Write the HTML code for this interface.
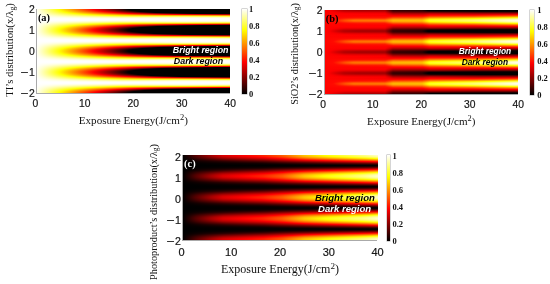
<!DOCTYPE html><html><head><meta charset="utf-8"><title>figure</title><style>
html,body{margin:0;padding:0;background:#fff}
body{width:550px;height:284px;position:relative;overflow:hidden;font-family:"Liberation Sans",sans-serif;color:#111}
.p{position:absolute}
.hm{position:absolute;overflow:hidden}
.hm i{display:block;height:1px;width:100%}
.ax{position:absolute;border-left:1px solid #aaa;border-bottom:1px solid #aaa;box-sizing:border-box}
.yt{position:absolute;font-size:10px;line-height:10px;text-align:right;width:20px;white-space:nowrap}
.yt b{font-weight:normal;display:inline-block;transform:scaleX(1.3);transform-origin:100% 50%;margin-right:0.6px}
.xt,.yt{-webkit-text-stroke:0.2px #222}
.xt{position:absolute;font-size:10px;line-height:10px;text-align:center;width:20px}
.xl{position:absolute;font-family:"Liberation Serif",serif;font-size:11.3px;line-height:12px;text-align:center;white-space:nowrap;transform:translateX(-50%)}
.xl sup{font-size:.76em;vertical-align:.47em;line-height:0}
.yl{position:absolute;font-family:"Liberation Serif",serif;font-size:10.4px;line-height:12px;white-space:nowrap;transform:translate(-50%,-50%) rotate(-90deg)}
.yl sub{font-size:.72em;vertical-align:-.2em;line-height:0}
.cb{position:absolute;width:4.9px;background:linear-gradient(0deg,#000 0%,#f00 37.5%,#ff0 75%,#fff 100%);box-shadow:0 0 0 0.5px #aaa}
.cl{position:absolute;font-family:"Liberation Serif",serif;font-weight:bold;font-size:8.5px;line-height:8px;white-space:nowrap}
.tag{position:absolute;font-family:"Liberation Serif",serif;font-weight:bold;font-size:10.4px;line-height:10px}
.rg{position:absolute;font-weight:bold;font-style:italic;font-size:9px;line-height:10px;white-space:nowrap;transform:translate(0,-50%)}
</style></head><body><div class="hm" style="left:36.3px;top:8.6px;width:194.0px;height:84.3px"><i style="background:linear-gradient(90deg,#ffffff 0px,#ffff02 23px,#ff0000 58px,#000000 93px,#000000 194px)"></i><i style="background:linear-gradient(90deg,#ffffff 0px,#ffff03 24px,#fd0000 61px,#030000 96px,#000000 194px)"></i><i style="background:linear-gradient(90deg,#ffffff 0px,#ffff06 26px,#fff600 28px,#fc0000 67px,#550000 92px,#020000 104px,#000000 194px)"></i><i style="background:linear-gradient(90deg,#ffffff 0px,#fffd00 31px,#fe0000 77px,#020000 119px,#000000 194px)"></i><i style="background:linear-gradient(90deg,#ffffff 0px,#fffd00 38px,#ff0100 93px,#6d0000 126px,#1e0000 148px,#000000 160px,#000000 194px)"></i><i style="background:linear-gradient(90deg,#ffffff 0px,#fffe00 50px,#ff5b00 99px,#ff1400 128px,#fc0000 140px,#b50000 183px,#a70000 194px)"></i><i style="background:linear-gradient(90deg,#ffffff 0px,#ffff00 72px,#ffd300 95px,#ffbd00 120px,#ffa800 157px,#ff8a00 194px)"></i><i style="background:linear-gradient(90deg,#ffffff 0px,#ffff55 82px,#ffff48 99px,#ffff5b 148px,#ffff43 194px)"></i><i style="background:linear-gradient(90deg,#ffffff 0px,#ffffb0 83px,#ffffb5 105px,#ffffcc 145px,#ffffc6 194px)"></i><i style="background:linear-gradient(90deg,#ffffff 0px,#ffffeb 89px,#fffff8 155px,#fffff7 194px)"></i><i style="background:linear-gradient(90deg,#ffffff 0px,#ffffff 194px)"></i><i style="background:linear-gradient(90deg,#ffffff 0px,#ffffee 90px,#fffff9 158px,#fffff9 194px)"></i><i style="background:linear-gradient(90deg,#ffffff 0px,#ffffb6 83px,#ffffbc 106px,#ffffd2 146px,#ffffcc 194px)"></i><i style="background:linear-gradient(90deg,#ffffff 0px,#ffff5d 82px,#ffff51 99px,#ffff66 148px,#ffff50 194px)"></i><i style="background:linear-gradient(90deg,#ffffff 0px,#fffe00 75px,#ffd800 97px,#ffc600 124px,#ffb600 157px,#ff9900 194px)"></i><i style="background:linear-gradient(90deg,#ffffff 0px,#fffe00 51px,#ff6600 98px,#ff2500 126px,#fd0000 148px,#bd0000 191px,#ba0000 194px)"></i><i style="background:linear-gradient(90deg,#ffffff 0px,#ffff02 38px,#ff0d00 92px,#fe0000 95px,#790000 126px,#2a0000 149px,#000000 167px,#000000 194px)"></i><i style="background:linear-gradient(90deg,#ffffff 0px,#ffff01 31px,#fd0000 78px,#000000 121px,#000000 194px)"></i><i style="background:linear-gradient(90deg,#ffffff 0px,#fffe00 27px,#ff0100 67px,#6f0000 89px,#010000 105px,#000000 194px)"></i><i style="background:linear-gradient(90deg,#ffffff 0px,#ffff04 24px,#ffed00 27px,#ff0000 61px,#000000 97px,#000000 194px)"></i><i style="background:linear-gradient(90deg,#ffffff 0px,#ffff03 23px,#ff0100 58px,#000000 93px,#000000 194px)"></i><i style="background:linear-gradient(90deg,#ffffff 0px,#ffff02 23px,#ff0000 58px,#000000 93px,#000000 194px)"></i><i style="background:linear-gradient(90deg,#ffffff 0px,#ffff02 24px,#ff0300 60px,#410000 87px,#000000 96px,#000000 194px)"></i><i style="background:linear-gradient(90deg,#ffffff 0px,#ffff04 26px,#ffe800 30px,#ff0000 66px,#570000 91px,#000000 104px,#000000 194px)"></i><i style="background:linear-gradient(90deg,#ffffff 0px,#ffff03 30px,#fe0000 76px,#000000 118px,#000000 194px)"></i><i style="background:linear-gradient(90deg,#ffffff 0px,#ffff00 37px,#fd0000 92px,#650000 125px,#130000 147px,#000000 154px,#000000 194px)"></i><i style="background:linear-gradient(90deg,#ffffff 0px,#fffd00 49px,#ff4f00 100px,#ff0500 129px,#f50000 136px,#ac0000 177px,#950000 194px)"></i><i style="background:linear-gradient(90deg,#ffffff 0px,#fffe00 70px,#ffcc00 94px,#ffb300 119px,#ff9a00 158px,#ff7b00 194px)"></i><i style="background:linear-gradient(90deg,#ffffff 0px,#ffff4d 82px,#ffff3e 99px,#ffff4a 130px,#ffff4d 152px,#ffff35 194px)"></i><i style="background:linear-gradient(90deg,#ffffff 0px,#ffffaa 83px,#ffffae 104px,#ffffc7 145px,#ffffbf 194px)"></i><i style="background:linear-gradient(90deg,#ffffff 0px,#ffffe8 88px,#fffff7 154px,#fffff5 194px)"></i><i style="background:linear-gradient(90deg,#ffffff 0px,#ffffff 194px)"></i><i style="background:linear-gradient(90deg,#ffffff 0px,#fffff1 91px,#fffffb 162px,#fffffa 194px)"></i><i style="background:linear-gradient(90deg,#ffffff 0px,#ffffbb 83px,#ffffc2 107px,#ffffd7 146px,#ffffd2 194px)"></i><i style="background:linear-gradient(90deg,#ffffff 0px,#ffff65 82px,#ffff5b 99px,#ffff71 147px,#ffff5d 194px)"></i><i style="background:linear-gradient(90deg,#ffffff 0px,#ffff01 77px,#ffdd00 99px,#ffcf00 129px,#ffc100 158px,#ffa700 194px)"></i><i style="background:linear-gradient(90deg,#ffffff 0px,#ffff00 52px,#ff7200 97px,#ff3400 125px,#fc0000 158px,#cc0000 194px)"></i><i style="background:linear-gradient(90deg,#ffffff 0px,#ffff00 39px,#fd0000 97px,#7e0000 128px,#340000 151px,#000000 174px,#000000 194px)"></i><i style="background:linear-gradient(90deg,#ffffff 0px,#ffff04 31px,#fff200 34px,#fd0000 79px,#0a0000 121px,#000000 123px,#000000 194px)"></i><i style="background:linear-gradient(90deg,#ffffff 0px,#ffff01 27px,#fe0000 68px,#5f0000 92px,#000000 106px,#000000 194px)"></i><i style="background:linear-gradient(90deg,#ffffff 0px,#ffff06 24px,#fff500 26px,#ff0300 61px,#4a0000 87px,#020000 97px,#000000 194px)"></i><i style="background:linear-gradient(90deg,#ffffff 0px,#ffff03 23px,#ffc700 31px,#ff0200 58px,#010000 93px,#000000 194px)"></i><i style="background:linear-gradient(90deg,#ffffff 0px,#ffff02 23px,#fe0000 58px,#000000 93px,#000000 194px)"></i><i style="background:linear-gradient(90deg,#ffffff 0px,#ffff01 24px,#ff0100 60px,#000000 96px,#000000 194px)"></i><i style="background:linear-gradient(90deg,#ffffff 0px,#ffff02 26px,#ff0300 65px,#840000 84px,#000000 103px,#000000 194px)"></i><i style="background:linear-gradient(90deg,#ffffff 0px,#ffff00 30px,#fe0000 75px,#030000 116px,#000000 194px)"></i><i style="background:linear-gradient(90deg,#ffffff 0px,#ffff02 36px,#ff0a00 88px,#ff0000 90px,#620000 123px,#0c0000 145px,#000000 150px,#000000 194px)"></i><i style="background:linear-gradient(90deg,#ffffff 0px,#ffff02 47px,#ff3f00 102px,#fd0000 126px,#b10000 163px,#820000 194px)"></i><i style="background:linear-gradient(90deg,#ffffff 0px,#fffe00 68px,#ffc500 94px,#ffa900 119px,#ff8a00 160px,#ff6c00 194px)"></i><i style="background:linear-gradient(90deg,#ffffff 0px,#ffff45 82px,#ffff34 99px,#ffff3d 127px,#ffff41 151px,#ffff26 194px)"></i><i style="background:linear-gradient(90deg,#ffffff 0px,#ffffa5 82px,#ffffa6 102px,#ffffc0 145px,#ffffb8 194px)"></i><i style="background:linear-gradient(90deg,#ffffff 0px,#ffffe5 87px,#fffff5 153px,#fffff3 194px)"></i><i style="background:linear-gradient(90deg,#ffffff 0px,#ffffff 194px)"></i><i style="background:linear-gradient(90deg,#ffffff 0px,#fffff4 93px,#fffffb 170px,#fffffb 194px)"></i><i style="background:linear-gradient(90deg,#ffffff 0px,#ffffc1 83px,#ffffc9 109px,#ffffdb 147px,#ffffd7 194px)"></i><i style="background:linear-gradient(90deg,#ffffff 0px,#ffff6c 82px,#ffff64 99px,#ffff7c 147px,#ffff69 194px)"></i><i style="background:linear-gradient(90deg,#ffffff 0px,#ffff01 80px,#ffe300 102px,#ffd000 156px,#ffb500 194px)"></i><i style="background:linear-gradient(90deg,#ffffff 0px,#fffd00 54px,#ff7d00 96px,#ff4400 123px,#fc0000 169px,#de0000 194px)"></i><i style="background:linear-gradient(90deg,#ffffff 0px,#fffe00 40px,#fd0000 99px,#870000 129px,#400000 152px,#000000 182px,#000000 194px)"></i><i style="background:linear-gradient(90deg,#ffffff 0px,#ffff00 32px,#fe0000 80px,#130000 121px,#000000 125px,#000000 194px)"></i><i style="background:linear-gradient(90deg,#ffffff 0px,#ffff03 27px,#ffd600 34px,#ff0300 68px,#940000 85px,#000000 107px,#000000 194px)"></i><i style="background:linear-gradient(90deg,#ffffff 0px,#ffff07 24px,#fffd00 25px,#fd0000 62px,#000000 98px,#000000 194px)"></i><i style="background:linear-gradient(90deg,#ffffff 0px,#ffff04 23px,#ffec00 26px,#ff0300 58px,#020000 93px,#000000 194px)"></i><i style="background:linear-gradient(90deg,#ffffff 0px,#ffff01 23px,#fe0000 58px,#040000 92px,#000000 95px,#000000 194px)"></i><i style="background:linear-gradient(90deg,#ffffff 0px,#ffff00 24px,#fe0000 60px,#020000 95px,#000000 194px)"></i><i style="background:linear-gradient(90deg,#ffffff 0px,#ffff00 26px,#fe0000 65px,#4d0000 91px,#010000 102px,#000000 194px)"></i><i style="background:linear-gradient(90deg,#ffffff 0px,#ffff05 29px,#fff700 31px,#ff0000 74px,#000000 115px,#000000 194px)"></i><i style="background:linear-gradient(90deg,#ffffff 0px,#fffe00 36px,#fd0000 89px,#560000 123px,#010000 144px,#000000 194px)"></i><i style="background:linear-gradient(90deg,#ffffff 0px,#ffff02 46px,#ff3300 103px,#fd0000 121px,#b20000 154px,#710000 193px,#700000 194px)"></i><i style="background:linear-gradient(90deg,#ffffff 0px,#fffe00 66px,#ffbf00 93px,#ffa000 117px,#ff7900 162px,#ff5c00 194px)"></i><i style="background:linear-gradient(90deg,#ffffff 0px,#ffff3c 82px,#ffff2a 99px,#ffff30 126px,#ffff33 151px,#ffff17 194px)"></i><i style="background:linear-gradient(90deg,#ffffff 0px,#ffff9f 82px,#ffff9f 102px,#ffffba 145px,#ffffb1 194px)"></i><i style="background:linear-gradient(90deg,#ffffff 0px,#ffffe1 86px,#fffff3 152px,#fffff1 194px)"></i><i style="background:linear-gradient(90deg,#ffffff 0px,#ffffff 194px)"></i><i style="background:linear-gradient(90deg,#ffffff 0px,#fffff6 95px,#fffffc 184px,#fffffc 194px)"></i><i style="background:linear-gradient(90deg,#ffffff 0px,#ffffc6 84px,#ffffd1 113px,#ffffe0 150px,#ffffdb 194px)"></i><i style="background:linear-gradient(90deg,#ffffff 0px,#ffff74 82px,#ffff6c 99px,#ffff86 147px,#ffff75 194px)"></i><i style="background:linear-gradient(90deg,#ffffff 0px,#ffff02 83px,#ffe900 106px,#ffdd00 154px,#ffc300 194px)"></i><i style="background:linear-gradient(90deg,#ffffff 0px,#ffff00 55px,#ff8800 95px,#ff5300 121px,#fe0000 181px,#f00000 194px)"></i><i style="background:linear-gradient(90deg,#ffffff 0px,#fffd00 41px,#fe0000 101px,#8e0000 131px,#490000 155px,#030000 190px,#000000 194px)"></i><i style="background:linear-gradient(90deg,#ffffff 0px,#ffff03 32px,#ffdd00 39px,#fe0000 81px,#1d0000 121px,#000000 127px,#000000 194px)"></i><i style="background:linear-gradient(90deg,#ffffff 0px,#ffff06 27px,#fff700 29px,#ff0100 69px,#700000 91px,#000000 108px,#000000 194px)"></i><i style="background:linear-gradient(90deg,#ffffff 0px,#fffe00 25px,#ff0100 62px,#2c0000 92px,#020000 98px,#000000 194px)"></i><i style="background:linear-gradient(90deg,#ffffff 0px,#ffff05 23px,#fff400 25px,#ff0400 58px,#ed0000 61px,#040000 93px,#000000 97px,#000000 194px)"></i><i style="background:linear-gradient(90deg,#ffffff 0px,#ffff01 23px,#fd0000 58px,#040000 92px,#000000 96px,#000000 194px)"></i></div><div class="ax" style="left:35.6px;top:8.6px;width:194.7px;height:85.0px"></div><div class="yt" style="left:14.7px;top:4.8px;font-size:10.4px">2</div><div class="yt" style="left:14.7px;top:25.9px;font-size:10.4px">1</div><div class="yt" style="left:14.7px;top:47.0px;font-size:10.4px">0</div><div class="yt" style="left:14.7px;top:68.0px;font-size:10.4px"><b>−</b>1</div><div class="yt" style="left:14.7px;top:89.1px;font-size:10.4px"><b>−</b>2</div><div class="xt" style="left:25.3px;top:98.5px;font-size:10.3px">0</div><div class="xt" style="left:74.8px;top:98.5px;font-size:10.3px">10</div><div class="xt" style="left:123.3px;top:98.5px;font-size:10.3px">20</div><div class="xt" style="left:171.8px;top:98.5px;font-size:10.3px">30</div><div class="xt" style="left:220.3px;top:98.5px;font-size:10.3px">40</div><div class="xl" style="left:133.3px;top:113.9px;font-size:11.10px">Exposure Energy(J/cm<sup>2</sup>)</div><div class="yl" style="left:8.6px;top:50.4px;font-size:10.70px">TI’s distribution(x/λ<sub>g</sub>)</div><div class="cb" style="left:241.7px;top:8.6px;height:85.1px;width:4.9px"></div><div class="cl" style="left:248.9px;top:5.3px">1</div><div class="cl" style="left:248.9px;top:22.2px">0.8</div><div class="cl" style="left:248.9px;top:39.0px">0.6</div><div class="cl" style="left:248.9px;top:55.9px">0.4</div><div class="cl" style="left:248.9px;top:72.7px">0.2</div><div class="cl" style="left:248.9px;top:89.6px">0</div><div class="tag" style="left:37.9px;top:12.6px;color:#000">(a)</div><div class="rg" style="left:172.8px;top:49.5px;color:#fff;font-size:8.90px">Bright region</div><div class="rg" style="left:173.8px;top:61.1px;color:#000;font-size:8.90px">Dark region</div><div class="hm" style="left:324.2px;top:9.6px;width:194.0px;height:84.3px"><i style="background:linear-gradient(90deg,#ff0300 0px,#fc0000 5px,#d50000 13px,#ba0000 20px,#ad0000 32px,#a70000 61px,#3a0000 69px,#2d0000 98px,#010000 104px,#000000 194px)"></i><i style="background:linear-gradient(90deg,#ff0300 0px,#fc0000 6px,#cd0000 20px,#c30000 35px,#bf0000 61px,#550000 69px,#460000 99px,#2e0000 105px,#120000 158px,#0b0000 194px)"></i><i style="background:linear-gradient(90deg,#ff0300 0px,#fc0000 9px,#e50000 22px,#df0000 61px,#990000 67px,#800000 69px,#730000 103px,#780000 107px,#5c0000 158px,#570000 194px)"></i><i style="background:linear-gradient(90deg,#ff0300 0px,#fb0000 16px,#f50000 37px,#f40000 61px,#cb0000 66px,#ad0000 69px,#a70000 100px,#ba0000 106px,#a20000 155px,#a30000 194px)"></i><i style="background:linear-gradient(90deg,#ff0300 0px,#fe0000 61px,#df0000 67px,#d20000 69px,#cf0000 99px,#e80000 106px,#dc0000 152px,#ec0000 194px)"></i><i style="background:linear-gradient(90deg,#ff0300 0px,#fc0000 64px,#f20000 71px,#f30000 99px,#ff0000 102px,#ff1100 106px,#ff1600 150px,#ff3a00 194px)"></i><i style="background:linear-gradient(90deg,#ff0300 0px,#ff0800 64px,#ff1400 70px,#ff1b00 99px,#ff4300 106px,#ff5a00 150px,#ff9100 194px)"></i><i style="background:linear-gradient(90deg,#ff0300 0px,#ff0900 17px,#ff1100 36px,#ff1200 61px,#ff3200 67px,#ff3f00 69px,#ff4700 98px,#ff6b00 103px,#ff8300 106px,#ffaa00 150px,#ffef00 194px)"></i><i style="background:linear-gradient(90deg,#ff0300 0px,#ff0900 12px,#ff2600 24px,#ff2e00 32px,#ff3100 61px,#ff7300 69px,#ff7c00 98px,#ff8b00 100px,#ffc700 106px,#fff800 150px,#ffff03 155px,#ffff6a 194px)"></i><i style="background:linear-gradient(90deg,#ff0300 0px,#ff0900 10px,#ff3e00 21px,#ff5900 30px,#ff5e00 61px,#ffa100 69px,#ffa800 98px,#ffba00 100px,#fffe00 106px,#ffff4a 148px,#ffffc7 194px)"></i><i style="background:linear-gradient(90deg,#ff0300 0px,#ff0900 9px,#ff2c00 15px,#ff4e00 21px,#ff7000 29px,#ff7700 61px,#ffb400 69px,#ffbb00 98px,#ffce00 100px,#fffe00 104px,#ffff1f 106px,#ffff70 149px,#ffffeb 194px)"></i><i style="background:linear-gradient(90deg,#ff0300 0px,#ff0a00 10px,#ff4000 21px,#ff5c00 30px,#ff6100 61px,#ffa300 69px,#ffab00 98px,#ffbd00 100px,#fff800 105px,#ffff02 106px,#ffff4f 148px,#ffffcc 194px)"></i><i style="background:linear-gradient(90deg,#ff0300 0px,#ff0800 11px,#ff2800 24px,#ff3100 31px,#ff3400 61px,#ff7700 69px,#ff8000 98px,#ff8f00 100px,#ffcc00 106px,#ffff01 151px,#ffff72 194px)"></i><i style="background:linear-gradient(90deg,#ff0300 0px,#ff0800 16px,#ff1300 34px,#ff1300 61px,#ff3500 67px,#ff4300 69px,#ff4b00 98px,#ff6700 102px,#ff8800 106px,#ffb000 150px,#fff600 194px)"></i><i style="background:linear-gradient(90deg,#ff0300 0px,#ff0900 64px,#ff1700 70px,#ff1e00 99px,#ff4700 106px,#ff6000 150px,#ff9800 194px)"></i><i style="background:linear-gradient(90deg,#ff0300 0px,#ff0100 62px,#f40000 71px,#f60000 99px,#ff0300 102px,#ff1500 106px,#ff1a00 150px,#ff4000 194px)"></i><i style="background:linear-gradient(90deg,#ff0300 0px,#ff0000 61px,#e10000 67px,#d50000 69px,#d20000 99px,#eb0000 106px,#e00000 152px,#f10000 194px)"></i><i style="background:linear-gradient(90deg,#ff0300 0px,#fb0000 17px,#f60000 57px,#f50000 61px,#ce0000 66px,#b00000 69px,#aa0000 100px,#be0000 106px,#a70000 155px,#a90000 194px)"></i><i style="background:linear-gradient(90deg,#ff0300 0px,#fc0000 9px,#e70000 22px,#e10000 61px,#9c0000 67px,#840000 69px,#780000 103px,#7e0000 107px,#620000 158px,#5d0000 194px)"></i><i style="background:linear-gradient(90deg,#ff0300 0px,#fc0000 6px,#cf0000 20px,#c60000 35px,#c20000 61px,#580000 69px,#490000 99px,#330000 105px,#170000 158px,#110000 194px)"></i><i style="background:linear-gradient(90deg,#ff0300 0px,#fd0000 5px,#d10000 14px,#bb0000 20px,#ae0000 32px,#a80000 61px,#3b0000 69px,#2e0000 98px,#030000 104px,#000000 132px,#000000 194px)"></i><i style="background:linear-gradient(90deg,#ff0300 0px,#fc0000 5px,#d40000 13px,#b90000 20px,#ac0000 32px,#a60000 61px,#390000 69px,#2c0000 98px,#000000 104px,#000000 194px)"></i><i style="background:linear-gradient(90deg,#ff0300 0px,#fc0000 6px,#cb0000 20px,#c10000 34px,#bd0000 61px,#520000 69px,#430000 99px,#280000 105px,#0c0000 158px,#060000 194px)"></i><i style="background:linear-gradient(90deg,#ff0300 0px,#fb0000 9px,#e40000 21px,#dd0000 59px,#dc0000 61px,#960000 67px,#7d0000 69px,#700000 104px,#720000 108px,#560000 159px,#510000 194px)"></i><i style="background:linear-gradient(90deg,#ff0300 0px,#fb0000 16px,#f40000 34px,#f30000 61px,#c90000 66px,#aa0000 69px,#a30000 100px,#b60000 106px,#9d0000 155px,#9e0000 194px)"></i><i style="background:linear-gradient(90deg,#ff0300 0px,#fe0000 61px,#de0000 67px,#d00000 69px,#cc0000 99px,#e50000 106px,#d80000 152px,#e60000 194px)"></i><i style="background:linear-gradient(90deg,#ff0300 0px,#fe0000 63px,#ef0000 70px,#f00000 99px,#ff0200 103px,#ff0e00 106px,#ff1100 150px,#ff3400 194px)"></i><i style="background:linear-gradient(90deg,#ff0300 0px,#ff0800 65px,#ff1100 71px,#ff1800 99px,#ff3f00 106px,#ff5500 150px,#ff8a00 194px)"></i><i style="background:linear-gradient(90deg,#ff0300 0px,#ff0900 18px,#ff1000 39px,#ff1300 62px,#ff3b00 69px,#ff4300 98px,#ff6700 103px,#ff7e00 106px,#ffa400 150px,#ffe800 194px)"></i><i style="background:linear-gradient(90deg,#ff0300 0px,#ff0900 12px,#ff2300 24px,#ff2b00 32px,#ff2e00 61px,#ff6f00 69px,#ff7800 98px,#ff9100 101px,#ffc200 106px,#fff300 150px,#ffff02 158px,#ffff61 194px)"></i><i style="background:linear-gradient(90deg,#ff0300 0px,#ff0900 10px,#ff3c00 21px,#ff5600 30px,#ff5b00 61px,#ff9e00 69px,#ffa600 98px,#ffb800 100px,#fffa00 106px,#ffff05 113px,#ffff48 149px,#ffffc2 194px)"></i><i style="background:linear-gradient(90deg,#ff0300 0px,#ff0900 9px,#ff2c00 15px,#ff4e00 21px,#ff6f00 29px,#ff7700 61px,#ffb400 69px,#ffbb00 98px,#ffce00 100px,#fffe00 104px,#ffff1f 106px,#ffff6f 149px,#ffffea 194px)"></i><i style="background:linear-gradient(90deg,#ff0300 0px,#ff0a00 10px,#ff4200 21px,#ff5f00 30px,#ff6400 61px,#ffa600 69px,#ffad00 98px,#ffbf00 100px,#fffa00 105px,#ffff08 107px,#ffff56 149px,#ffffd0 194px)"></i><i style="background:linear-gradient(90deg,#ff0300 0px,#ff0800 11px,#ff2900 23px,#ff3400 31px,#ff3700 61px,#ff7b00 69px,#ff8300 98px,#ff9300 100px,#ffd100 106px,#ffff01 148px,#ffff7b 194px)"></i><i style="background:linear-gradient(90deg,#ff0300 0px,#ff0900 16px,#ff1400 34px,#ff1500 61px,#ff3900 67px,#ff4700 69px,#ff4f00 98px,#ff6c00 102px,#ff8d00 106px,#ffb600 150px,#fffd00 194px)"></i><i style="background:linear-gradient(90deg,#ff0300 0px,#ff0a00 64px,#ff1a00 70px,#ff2200 99px,#ff4c00 106px,#ff6600 150px,#ff9f00 194px)"></i><i style="background:linear-gradient(90deg,#ff0300 0px,#ff0200 62px,#f60000 72px,#f90000 99px,#ff0600 102px,#ff1800 106px,#ff1f00 150px,#ff4600 194px)"></i><i style="background:linear-gradient(90deg,#ff0300 0px,#fc0000 62px,#d70000 69px,#d50000 99px,#ee0000 106px,#e40000 152px,#f70000 194px)"></i><i style="background:linear-gradient(90deg,#ff0300 0px,#fc0000 17px,#f70000 61px,#d00000 66px,#b30000 69px,#ae0000 100px,#c20000 106px,#ab0000 155px,#ae0000 194px)"></i><i style="background:linear-gradient(90deg,#ff0300 0px,#fb0000 10px,#e80000 22px,#e30000 61px,#9f0000 67px,#870000 69px,#7d0000 103px,#840000 107px,#670000 158px,#630000 194px)"></i><i style="background:linear-gradient(90deg,#ff0300 0px,#fd0000 6px,#d10000 20px,#c80000 35px,#c40000 61px,#5b0000 69px,#4c0000 99px,#380000 105px,#1c0000 159px,#160000 194px)"></i><i style="background:linear-gradient(90deg,#ff0300 0px,#fd0000 5px,#d20000 14px,#bc0000 20px,#af0000 32px,#a90000 61px,#3d0000 69px,#2f0000 98px,#000000 105px,#000000 194px)"></i><i style="background:linear-gradient(90deg,#ff0300 0px,#fc0000 5px,#d40000 13px,#b80000 20px,#ab0000 32px,#a50000 61px,#380000 69px,#2b0000 98px,#000000 104px,#000000 194px)"></i><i style="background:linear-gradient(90deg,#ff0300 0px,#fb0000 6px,#ca0000 20px,#bf0000 34px,#bb0000 61px,#500000 69px,#400000 99px,#240000 105px,#080000 157px,#010000 194px)"></i><i style="background:linear-gradient(90deg,#ff0300 0px,#fc0000 8px,#e20000 21px,#db0000 53px,#da0000 61px,#920000 67px,#790000 69px,#6b0000 100px,#6b0000 110px,#510000 159px,#4b0000 194px)"></i><i style="background:linear-gradient(90deg,#ff0300 0px,#fb0000 15px,#f30000 29px,#f20000 61px,#c60000 66px,#a60000 69px,#9f0000 100px,#b20000 106px,#980000 156px,#980000 194px)"></i><i style="background:linear-gradient(90deg,#ff0300 0px,#fd0000 61px,#dc0000 67px,#cd0000 69px,#c90000 99px,#e20000 106px,#d40000 152px,#e10000 194px)"></i><i style="background:linear-gradient(90deg,#ff0300 0px,#fd0000 63px,#ed0000 70px,#ee0000 99px,#ff0300 104px,#ff0b00 107px,#ff0d00 151px,#ff2e00 194px)"></i><i style="background:linear-gradient(90deg,#ff0300 0px,#ff0700 65px,#ff0f00 71px,#ff1500 99px,#ff3b00 106px,#ff4f00 150px,#ff8400 194px)"></i><i style="background:linear-gradient(90deg,#ff0300 0px,#ff0900 18px,#ff0f00 42px,#ff1200 62px,#ff3800 69px,#ff3f00 98px,#ff6200 103px,#ff7800 106px,#ff9d00 150px,#ffe100 194px)"></i><i style="background:linear-gradient(90deg,#ff0300 0px,#ff0800 12px,#ff2100 24px,#ff2900 33px,#ff2b00 61px,#ff6b00 69px,#ff7400 98px,#ff8d00 101px,#ffbd00 106px,#ffed00 150px,#ffff01 161px,#ffff58 194px)"></i><i style="background:linear-gradient(90deg,#ff0300 0px,#ff0900 10px,#ff3d00 22px,#ff5300 30px,#ff5800 61px,#ff9b00 69px,#ffa300 98px,#ffb500 100px,#fff700 106px,#ffff04 115px,#ffff42 149px,#ffffbc 194px)"></i><i style="background:linear-gradient(90deg,#ff0300 0px,#ff0900 9px,#ff2b00 15px,#ff4e00 21px,#ff6f00 29px,#ff7600 61px,#ffb400 69px,#ffba00 98px,#ffcd00 100px,#fffe00 104px,#ffff1e 106px,#ffff6e 149px,#ffffe9 194px)"></i><i style="background:linear-gradient(90deg,#ff0300 0px,#ff0a00 10px,#ff4400 21px,#ff6100 30px,#ff6700 61px,#ffa800 69px,#ffaf00 98px,#ffc200 100px,#fffd00 105px,#ffff0a 106px,#ffff5a 149px,#ffffd5 194px)"></i><i style="background:linear-gradient(90deg,#ff0300 0px,#ff0800 11px,#ff2b00 23px,#ff3800 31px,#ff3b00 61px,#ff7e00 69px,#ff8700 98px,#ff9700 100px,#ffd500 106px,#ffff01 145px,#ffff83 194px)"></i><i style="background:linear-gradient(90deg,#ff0300 0px,#ff0800 15px,#ff1600 31px,#ff1700 61px,#ff3c00 67px,#ff4a00 69px,#ff5300 98px,#ff7100 102px,#ff9200 106px,#ffbc00 150px,#ffff02 192px,#ffff07 194px)"></i><i style="background:linear-gradient(90deg,#ff0300 0px,#ff0a00 63px,#ff1d00 70px,#ff2500 99px,#ff5000 106px,#ff6b00 150px,#ffa600 194px)"></i><i style="background:linear-gradient(90deg,#ff0300 0px,#ff0000 63px,#f90000 74px,#fb0000 99px,#ff0900 102px,#ff1b00 106px,#ff2400 150px,#ff4d00 194px)"></i><i style="background:linear-gradient(90deg,#ff0300 0px,#fd0000 62px,#da0000 69px,#d70000 99px,#f10000 106px,#e80000 151px,#fc0000 194px)"></i><i style="background:linear-gradient(90deg,#ff0300 0px,#fb0000 18px,#f80000 61px,#d20000 66px,#b60000 69px,#b10000 100px,#c60000 106px,#b00000 154px,#b40000 194px)"></i><i style="background:linear-gradient(90deg,#ff0300 0px,#fc0000 10px,#ea0000 22px,#e50000 61px,#af0000 66px,#8a0000 69px,#800000 102px,#890000 107px,#6d0000 158px,#690000 194px)"></i><i style="background:linear-gradient(90deg,#ff0300 0px,#fd0000 6px,#d30000 20px,#ca0000 36px,#c70000 61px,#5e0000 69px,#4f0000 99px,#3e0000 105px,#210000 159px,#1b0000 194px)"></i><i style="background:linear-gradient(90deg,#ff0300 0px,#fd0000 5px,#d30000 14px,#bd0000 20px,#b00000 33px,#ab0000 61px,#3e0000 69px,#310000 98px,#010000 105px,#000000 194px)"></i><i style="background:linear-gradient(90deg,#ff0300 0px,#fc0000 5px,#d30000 13px,#b80000 20px,#aa0000 32px,#a40000 61px,#370000 69px,#2a0000 98px,#000000 104px,#000000 194px)"></i><i style="background:linear-gradient(90deg,#ff0300 0px,#ff0000 5px,#c80000 20px,#bd0000 34px,#b90000 61px,#4d0000 69px,#3d0000 99px,#1c0000 106px,#020000 160px,#000000 194px)"></i><i style="background:linear-gradient(90deg,#ff0300 0px,#fc0000 8px,#e00000 21px,#d90000 48px,#d80000 61px,#8f0000 67px,#760000 69px,#670000 100px,#610000 116px,#4a0000 161px,#450000 194px)"></i><i style="background:linear-gradient(90deg,#ff0300 0px,#fc0000 14px,#f30000 26px,#f10000 61px,#c40000 66px,#a30000 69px,#9c0000 100px,#ad0000 106px,#930000 156px,#930000 194px)"></i><i style="background:linear-gradient(90deg,#ff0300 0px,#fd0000 61px,#da0000 67px,#cb0000 69px,#c60000 99px,#df0000 106px,#cf0000 153px,#db0000 194px)"></i><i style="background:linear-gradient(90deg,#ff0300 0px,#fd0000 63px,#eb0000 70px,#eb0000 99px,#ff0000 104px,#ff0800 107px,#ff0900 151px,#ff2800 194px)"></i><i style="background:linear-gradient(90deg,#ff0300 0px,#ff0700 66px,#ff0c00 74px,#ff1200 99px,#ff3700 106px,#ff4a00 150px,#ff7d00 194px)"></i><i style="background:linear-gradient(90deg,#ff0300 0px,#ff0900 19px,#ff1000 62px,#ff3400 69px,#ff3c00 98px,#ff6500 104px,#ff7300 106px,#ff9700 150px,#ffda00 194px)"></i><i style="background:linear-gradient(90deg,#ff0300 0px,#ff0800 12px,#ff2000 25px,#ff2600 35px,#ff2800 61px,#ff6700 69px,#ff7000 98px,#ff8800 101px,#ffb800 106px,#ffe800 150px,#ffff03 165px,#ffff4f 194px)"></i><i style="background:linear-gradient(90deg,#ff0300 0px,#ff0800 10px,#ff3b00 22px,#ff5000 30px,#ff5400 61px,#ff9800 69px,#ffa000 98px,#ffb200 100px,#fff400 106px,#ffff03 118px,#ffff3d 149px,#ffffb6 194px)"></i><i style="background:linear-gradient(90deg,#ff0300 0px,#ff0900 9px,#ff2b00 15px,#ff4d00 21px,#ff6e00 29px,#ff7500 61px,#ffb300 69px,#ffba00 98px,#ffcc00 100px,#fffd00 104px,#ffff1d 106px,#ffff6d 149px,#ffffe8 194px)"></i><i style="background:linear-gradient(90deg,#ff0300 0px,#ff0b00 10px,#ff4600 21px,#ff6400 30px,#ff6a00 61px,#ffaa00 69px,#ffb100 98px,#ffc400 100px,#ffff00 105px,#ffff0e 106px,#ffff5e 149px,#ffffd8 194px)"></i><i style="background:linear-gradient(90deg,#ff0300 0px,#ff0900 11px,#ff2e00 23px,#ff3b00 31px,#ff3e00 61px,#ff8200 69px,#ff8b00 98px,#ff9b00 100px,#ffda00 106px,#ffff02 141px,#ffff2a 158px,#ffff8b 194px)"></i><i style="background:linear-gradient(90deg,#ff0300 0px,#ff0900 15px,#ff1800 30px,#ff1900 61px,#ff3f00 67px,#ff4e00 69px,#ff5700 98px,#ff7500 102px,#ff9700 106px,#ffc200 150px,#ffff02 188px,#ffff11 194px)"></i><i style="background:linear-gradient(90deg,#ff0300 0px,#ff0b00 63px,#ff2000 70px,#ff2500 98px,#ff5500 106px,#ff7100 150px,#ffad00 194px)"></i><i style="background:linear-gradient(90deg,#ff0300 0px,#ff0100 63px,#fb0000 86px,#fe0000 99px,#ff1f00 106px,#ff2900 150px,#ff5300 194px)"></i><i style="background:linear-gradient(90deg,#ff0300 0px,#fd0000 62px,#dc0000 69px,#da0000 99px,#f40000 106px,#ec0000 151px,#ff0300 194px)"></i><i style="background:linear-gradient(90deg,#ff0300 0px,#fb0000 19px,#f80000 61px,#d50000 66px,#b90000 69px,#b30000 99px,#ca0000 106px,#b40000 154px,#b90000 194px)"></i><i style="background:linear-gradient(90deg,#ff0300 0px,#fb0000 11px,#eb0000 22px,#e60000 61px,#b20000 66px,#8e0000 69px,#850000 102px,#8e0000 107px,#720000 158px,#6e0000 194px)"></i><i style="background:linear-gradient(90deg,#ff0300 0px,#fb0000 7px,#d40000 21px,#cc0000 37px,#c90000 61px,#610000 69px,#530000 99px,#430000 105px,#270000 160px,#210000 194px)"></i><i style="background:linear-gradient(90deg,#ff0300 0px,#fd0000 5px,#d00000 15px,#bd0000 21px,#b20000 33px,#ac0000 61px,#400000 69px,#330000 98px,#000000 106px,#000000 194px)"></i><i style="background:linear-gradient(90deg,#ff0300 0px,#fc0000 5px,#d30000 13px,#b70000 20px,#aa0000 32px,#a40000 61px,#370000 69px,#2a0000 98px,#040000 103px,#000000 108px,#000000 194px)"></i></div><div class="ax" style="left:323.5px;top:9.6px;width:194.7px;height:85.0px"></div><div class="yt" style="left:302.6px;top:5.8px;font-size:10.4px">2</div><div class="yt" style="left:302.6px;top:26.9px;font-size:10.4px">1</div><div class="yt" style="left:302.6px;top:48.0px;font-size:10.4px">0</div><div class="yt" style="left:302.6px;top:69.0px;font-size:10.4px"><b>−</b>1</div><div class="yt" style="left:302.6px;top:90.1px;font-size:10.4px"><b>−</b>2</div><div class="xt" style="left:313.2px;top:99.5px;font-size:10.3px">0</div><div class="xt" style="left:362.7px;top:99.5px;font-size:10.3px">10</div><div class="xt" style="left:411.2px;top:99.5px;font-size:10.3px">20</div><div class="xt" style="left:459.7px;top:99.5px;font-size:10.3px">30</div><div class="xt" style="left:508.2px;top:99.5px;font-size:10.3px">40</div><div class="xl" style="left:421.2px;top:114.9px;font-size:11.05px">Exposure Energy(J/cm<sup>2</sup>)</div><div class="yl" style="left:295.4px;top:54.2px;font-size:10.30px">SiO2’s distribution(x/λ<sub>g</sub>)</div><div class="cb" style="left:529.7px;top:9.6px;height:85.1px;width:4.4px"></div><div class="cl" style="left:537.2px;top:6.3px">1</div><div class="cl" style="left:537.2px;top:23.2px">0.8</div><div class="cl" style="left:537.2px;top:40.0px">0.6</div><div class="cl" style="left:537.2px;top:56.9px">0.4</div><div class="cl" style="left:537.2px;top:73.7px">0.2</div><div class="cl" style="left:537.2px;top:90.6px">0</div><div class="tag" style="left:325.8px;top:13.6px;color:#000">(b)</div><div class="rg" style="left:458.8px;top:51.3px;color:#fff;font-size:8.35px">Bright region</div><div class="rg" style="left:461.7px;top:61.8px;color:#000;font-size:8.35px">Dark region</div><div class="hm" style="left:182.5px;top:155.4px;width:195.0px;height:84.8px"><i style="background:linear-gradient(90deg,#000000 0px,#500000 12px,#aa0000 29px,#da0000 40px,#ff0200 61px,#ff2200 80px,#ff5a00 99px,#ffa500 115px,#ffc300 121px,#ffff02 142px,#ffff89 182px,#ffffc8 195px)"></i><i style="background:linear-gradient(90deg,#000000 0px,#500000 13px,#a30000 30px,#cc0000 40px,#ff0000 69px,#ff1700 81px,#ff4b00 99px,#ff9400 115px,#ffb000 121px,#fff300 145px,#ffff01 151px,#ffff6a 182px,#ffffa8 195px)"></i><i style="background:linear-gradient(90deg,#000000 0px,#450000 13px,#a10000 35px,#b40000 41px,#fb0000 81px,#ff0c00 87px,#ff3200 100px,#ff7700 116px,#ff9000 122px,#ffcf00 146px,#ffff02 169px,#ffff33 183px,#ffff6b 195px)"></i><i style="background:linear-gradient(90deg,#000000 0px,#3e0000 15px,#910000 40px,#d50000 81px,#ff0300 98px,#ff4800 116px,#ff6100 123px,#ff9d00 148px,#ffeb00 184px,#ffff01 191px,#ffff13 195px)"></i><i style="background:linear-gradient(90deg,#000000 0px,#370000 19px,#6d0000 41px,#ac0000 82px,#e60000 104px,#ff0100 112px,#ff2300 122px,#ff6100 151px,#ffa400 184px,#ffc300 195px)"></i><i style="background:linear-gradient(90deg,#000000 0px,#490000 41px,#7f0000 82px,#c50000 112px,#e40000 124px,#ff0300 139px,#ff5400 184px,#ff7000 195px)"></i><i style="background:linear-gradient(90deg,#000000 0px,#550000 83px,#980000 118px,#ff0200 185px,#ff1800 195px)"></i><i style="background:linear-gradient(90deg,#000000 0px,#2b0000 78px,#800000 148px,#b30000 188px,#bf0000 195px)"></i><i style="background:linear-gradient(90deg,#000000 0px,#120000 78px,#600000 183px,#6d0000 195px)"></i><i style="background:linear-gradient(90deg,#000000 0px,#080000 95px,#260000 187px,#2a0000 195px)"></i><i style="background:linear-gradient(90deg,#000000 0px,#010000 195px)"></i><i style="background:linear-gradient(90deg,#000000 0px,#070000 107px,#1e0000 193px,#1f0000 195px)"></i><i style="background:linear-gradient(90deg,#000000 0px,#100000 80px,#520000 183px,#5f0000 195px)"></i><i style="background:linear-gradient(90deg,#000000 0px,#250000 77px,#9e0000 185px,#ae0000 195px)"></i><i style="background:linear-gradient(90deg,#000000 0px,#4c0000 82px,#8e0000 119px,#f00000 185px,#ff0400 194px,#ff0600 195px)"></i><i style="background:linear-gradient(90deg,#000000 0px,#460000 44px,#760000 82px,#bc0000 113px,#d90000 125px,#ff0200 147px,#ff4600 185px,#ff5f00 195px)"></i><i style="background:linear-gradient(90deg,#000000 0px,#360000 20px,#670000 42px,#a30000 82px,#de0000 105px,#ff0300 116px,#ff1a00 124px,#ff5800 154px,#ff9800 185px,#ffb300 195px)"></i><i style="background:linear-gradient(90deg,#000000 0px,#3b0000 15px,#8a0000 40px,#cd0000 81px,#ff0100 100px,#ff4600 118px,#ff8300 141px,#ffde00 184px,#fffe00 195px)"></i><i style="background:linear-gradient(90deg,#000000 0px,#460000 14px,#ab0000 39px,#f40000 81px,#ff0200 86px,#ff2b00 100px,#ff6f00 116px,#ff8700 122px,#ffc500 146px,#ffff03 174px,#ffff24 183px,#ffff5b 195px)"></i><i style="background:linear-gradient(90deg,#000000 0px,#4e0000 13px,#9f0000 30px,#c80000 40px,#ff0100 72px,#ff1500 82px,#ff4600 99px,#ff8f00 115px,#ffab00 121px,#ffed00 145px,#ffff02 154px,#ffff60 182px,#ffff9e 195px)"></i><i style="background:linear-gradient(90deg,#000000 0px,#4f0000 12px,#a80000 29px,#d80000 40px,#ff0200 62px,#ff2100 80px,#ff5800 99px,#ffa300 115px,#ffc000 121px,#ffff01 143px,#ffff85 182px,#ffffc4 195px)"></i><i style="background:linear-gradient(90deg,#000000 0px,#500000 12px,#a60000 28px,#db0000 40px,#ff0200 60px,#ff2400 80px,#ff5b00 99px,#ffa700 115px,#ffc400 121px,#ffff01 141px,#ffff8b 182px,#ffffcb 195px)"></i><i style="background:linear-gradient(90deg,#000000 0px,#510000 13px,#a10000 29px,#d00000 40px,#ff0100 67px,#ff1b00 81px,#ff4f00 99px,#ff9900 115px,#ffb500 121px,#fff800 145px,#ffff03 149px,#ffff72 182px,#ffffb1 195px)"></i><i style="background:linear-gradient(90deg,#000000 0px,#470000 13px,#9e0000 33px,#b80000 40px,#ff0200 81px,#ff3900 100px,#ff7f00 116px,#ff9800 122px,#ffd800 146px,#ffff03 165px,#ffff3c 182px,#ffff7a 195px)"></i><i style="background:linear-gradient(90deg,#000000 0px,#3e0000 14px,#980000 40px,#dd0000 81px,#ff0300 95px,#ff4a00 114px,#ff6900 122px,#ffa700 147px,#fff800 184px,#ffff02 187px,#ffff27 195px)"></i><i style="background:linear-gradient(90deg,#000000 0px,#360000 17px,#750000 41px,#b30000 81px,#ed0000 103px,#ff0100 109px,#ff2f00 122px,#ff6d00 150px,#ffb300 184px,#ffd300 195px)"></i><i style="background:linear-gradient(90deg,#000000 0px,#4e0000 39px,#880000 82px,#ca0000 110px,#f00000 123px,#ff0300 132px,#ff6700 185px,#ff8100 195px)"></i><i style="background:linear-gradient(90deg,#000000 0px,#390000 51px,#5f0000 84px,#a40000 118px,#ff0000 175px,#ff2900 195px)"></i><i style="background:linear-gradient(90deg,#000000 0px,#330000 79px,#880000 143px,#c00000 186px,#d00000 195px)"></i><i style="background:linear-gradient(90deg,#000000 0px,#160000 77px,#6e0000 183px,#7d0000 195px)"></i><i style="background:linear-gradient(90deg,#000000 0px,#0a0000 90px,#2f0000 185px,#360000 195px)"></i><i style="background:linear-gradient(90deg,#000000 0px,#060000 195px)"></i><i style="background:linear-gradient(90deg,#000000 0px,#070000 129px,#160000 195px)"></i><i style="background:linear-gradient(90deg,#000000 0px,#0d0000 82px,#450000 183px,#500000 195px)"></i><i style="background:linear-gradient(90deg,#000000 0px,#1f0000 76px,#8e0000 185px,#9d0000 195px)"></i><i style="background:linear-gradient(90deg,#000000 0px,#430000 81px,#970000 134px,#df0000 185px,#f30000 195px)"></i><i style="background:linear-gradient(90deg,#000000 0px,#400000 45px,#6d0000 82px,#b50000 115px,#d20000 129px,#ff0300 157px,#ff3700 186px,#ff4d00 195px)"></i><i style="background:linear-gradient(90deg,#000000 0px,#360000 22px,#600000 42px,#9a0000 82px,#d90000 107px,#ff0100 119px,#ff4200 150px,#ff8500 184px,#ffa300 195px)"></i><i style="background:linear-gradient(90deg,#000000 0px,#3a0000 16px,#840000 41px,#c50000 81px,#ff0200 103px,#ff4700 122px,#ff8600 149px,#ffd000 184px,#fff000 195px)"></i><i style="background:linear-gradient(90deg,#000000 0px,#440000 14px,#a40000 39px,#ed0000 81px,#ff0300 89px,#ff2700 101px,#ff6a00 117px,#ff8000 123px,#ffbd00 147px,#ffff03 179px,#ffff4b 195px)"></i><i style="background:linear-gradient(90deg,#000000 0px,#4c0000 13px,#9f0000 31px,#c30000 40px,#ff0000 75px,#ff3900 97px,#ff8300 114px,#ffa400 121px,#ffe600 145px,#ffff01 157px,#ffff55 182px,#ffff93 195px)"></i><i style="background:linear-gradient(90deg,#000000 0px,#4e0000 12px,#a60000 29px,#d60000 40px,#ff0100 63px,#ff1e00 80px,#ff5600 99px,#ffa000 115px,#ffbd00 121px,#ffff00 144px,#ffff80 182px,#ffffbf 195px)"></i><i style="background:linear-gradient(90deg,#000000 0px,#510000 12px,#a60000 28px,#db0000 40px,#ff0200 60px,#ff2400 80px,#ff5c00 99px,#ffa800 115px,#ffc500 121px,#ffff02 141px,#ffff8c 182px,#ffffcc 195px)"></i><i style="background:linear-gradient(90deg,#000000 0px,#4d0000 12px,#a40000 29px,#d30000 40px,#ff0100 65px,#ff1e00 81px,#ff5300 99px,#ff9d00 115px,#ffba00 121px,#fffd00 145px,#ffff7a 182px,#ffffb9 195px)"></i><i style="background:linear-gradient(90deg,#000000 0px,#4a0000 13px,#9f0000 32px,#be0000 40px,#ff0000 78px,#ff3b00 99px,#ff8700 116px,#ffa000 122px,#ffe000 146px,#ffff02 161px,#ffff49 182px,#ffff87 195px)"></i><i style="background:linear-gradient(90deg,#000000 0px,#410000 14px,#9f0000 40px,#e50000 81px,#ff0300 92px,#ff2b00 104px,#ff7400 122px,#ffb200 147px,#ffff02 183px,#ffff39 195px)"></i><i style="background:linear-gradient(90deg,#000000 0px,#3a0000 17px,#7c0000 41px,#bc0000 81px,#f40000 102px,#ff0200 106px,#ff3b00 122px,#ff7b00 150px,#ffc200 184px,#ffe200 195px)"></i><i style="background:linear-gradient(90deg,#000000 0px,#370000 25px,#5a0000 43px,#910000 82px,#d30000 109px,#fd0000 123px,#ff7500 184px,#ff9200 195px)"></i><i style="background:linear-gradient(90deg,#000000 0px,#3c0000 47px,#660000 83px,#ab0000 116px,#de0000 144px,#ff0300 167px,#ff2d00 189px,#ff3b00 195px)"></i><i style="background:linear-gradient(90deg,#000000 0px,#3a0000 80px,#900000 139px,#cf0000 185px,#e10000 195px)"></i><i style="background:linear-gradient(90deg,#000000 0px,#1a0000 76px,#7e0000 184px,#8d0000 195px)"></i><i style="background:linear-gradient(90deg,#000000 0px,#0b0000 86px,#390000 183px,#430000 195px)"></i><i style="background:linear-gradient(90deg,#000000 0px,#080000 166px,#0d0000 195px)"></i><i style="background:linear-gradient(90deg,#000000 0px,#080000 166px,#0d0000 195px)"></i><i style="background:linear-gradient(90deg,#000000 0px,#0b0000 86px,#390000 183px,#430000 195px)"></i><i style="background:linear-gradient(90deg,#000000 0px,#1a0000 76px,#7e0000 184px,#8d0000 195px)"></i><i style="background:linear-gradient(90deg,#000000 0px,#3a0000 80px,#900000 139px,#cf0000 185px,#e10000 195px)"></i><i style="background:linear-gradient(90deg,#000000 0px,#3c0000 47px,#660000 83px,#ab0000 116px,#de0000 144px,#ff0300 167px,#ff2d00 189px,#ff3b00 195px)"></i><i style="background:linear-gradient(90deg,#000000 0px,#370000 25px,#5a0000 43px,#910000 82px,#d30000 109px,#fd0000 123px,#ff7500 184px,#ff9200 195px)"></i><i style="background:linear-gradient(90deg,#000000 0px,#3a0000 17px,#7c0000 41px,#bc0000 81px,#f40000 102px,#ff0200 106px,#ff3b00 122px,#ff7b00 150px,#ffc200 184px,#ffe200 195px)"></i><i style="background:linear-gradient(90deg,#000000 0px,#410000 14px,#9f0000 40px,#e50000 81px,#ff0300 92px,#ff2b00 104px,#ff7400 122px,#ffb200 147px,#ffff02 183px,#ffff39 195px)"></i><i style="background:linear-gradient(90deg,#000000 0px,#4a0000 13px,#9f0000 32px,#be0000 40px,#ff0000 78px,#ff3b00 99px,#ff8700 116px,#ffa000 122px,#ffe000 146px,#ffff02 161px,#ffff49 182px,#ffff87 195px)"></i><i style="background:linear-gradient(90deg,#000000 0px,#4d0000 12px,#a40000 29px,#d30000 40px,#ff0100 65px,#ff1e00 81px,#ff5300 99px,#ff9d00 115px,#ffba00 121px,#fffd00 145px,#ffff7a 182px,#ffffb9 195px)"></i><i style="background:linear-gradient(90deg,#000000 0px,#510000 12px,#a60000 28px,#db0000 40px,#ff0200 60px,#ff2400 80px,#ff5c00 99px,#ffa800 115px,#ffc500 121px,#ffff02 141px,#ffff8c 182px,#ffffcc 195px)"></i><i style="background:linear-gradient(90deg,#000000 0px,#4e0000 12px,#a60000 29px,#d60000 40px,#ff0100 63px,#ff1e00 80px,#ff5600 99px,#ffa000 115px,#ffbd00 121px,#ffff00 144px,#ffff80 182px,#ffffbf 195px)"></i><i style="background:linear-gradient(90deg,#000000 0px,#4c0000 13px,#9f0000 31px,#c30000 40px,#ff0000 75px,#ff3900 97px,#ff8300 114px,#ffa400 121px,#ffe600 145px,#ffff01 157px,#ffff55 182px,#ffff93 195px)"></i><i style="background:linear-gradient(90deg,#000000 0px,#440000 14px,#a40000 39px,#ed0000 81px,#ff0300 89px,#ff2700 101px,#ff6a00 117px,#ff8000 123px,#ffbd00 147px,#ffff03 179px,#ffff4b 195px)"></i><i style="background:linear-gradient(90deg,#000000 0px,#3a0000 16px,#840000 41px,#c50000 81px,#ff0200 103px,#ff4700 122px,#ff8600 149px,#ffd000 184px,#fff000 195px)"></i><i style="background:linear-gradient(90deg,#000000 0px,#360000 22px,#600000 42px,#9a0000 82px,#d90000 107px,#ff0100 119px,#ff4200 150px,#ff8500 184px,#ffa300 195px)"></i><i style="background:linear-gradient(90deg,#000000 0px,#400000 45px,#6d0000 82px,#b50000 115px,#d20000 129px,#ff0300 157px,#ff3700 186px,#ff4d00 195px)"></i><i style="background:linear-gradient(90deg,#000000 0px,#430000 81px,#970000 134px,#df0000 185px,#f30000 195px)"></i><i style="background:linear-gradient(90deg,#000000 0px,#1f0000 76px,#8e0000 185px,#9d0000 195px)"></i><i style="background:linear-gradient(90deg,#000000 0px,#0d0000 82px,#450000 183px,#500000 195px)"></i><i style="background:linear-gradient(90deg,#000000 0px,#070000 129px,#160000 195px)"></i><i style="background:linear-gradient(90deg,#000000 0px,#060000 195px)"></i><i style="background:linear-gradient(90deg,#000000 0px,#0a0000 90px,#2f0000 185px,#360000 195px)"></i><i style="background:linear-gradient(90deg,#000000 0px,#160000 77px,#6e0000 183px,#7d0000 195px)"></i><i style="background:linear-gradient(90deg,#000000 0px,#330000 79px,#880000 143px,#c00000 186px,#d00000 195px)"></i><i style="background:linear-gradient(90deg,#000000 0px,#390000 51px,#5f0000 84px,#a40000 118px,#ff0000 175px,#ff2900 195px)"></i><i style="background:linear-gradient(90deg,#000000 0px,#4e0000 39px,#880000 82px,#ca0000 110px,#f00000 123px,#ff0300 132px,#ff6700 185px,#ff8100 195px)"></i><i style="background:linear-gradient(90deg,#000000 0px,#360000 17px,#750000 41px,#b30000 81px,#ed0000 103px,#ff0100 109px,#ff2f00 122px,#ff6d00 150px,#ffb300 184px,#ffd300 195px)"></i><i style="background:linear-gradient(90deg,#000000 0px,#3e0000 14px,#980000 40px,#dd0000 81px,#ff0300 95px,#ff4a00 114px,#ff6900 122px,#ffa700 147px,#fff800 184px,#ffff02 187px,#ffff27 195px)"></i><i style="background:linear-gradient(90deg,#000000 0px,#470000 13px,#9e0000 33px,#b80000 40px,#ff0200 81px,#ff3900 100px,#ff7f00 116px,#ff9800 122px,#ffd800 146px,#ffff03 165px,#ffff3c 182px,#ffff7a 195px)"></i><i style="background:linear-gradient(90deg,#000000 0px,#510000 13px,#a10000 29px,#d00000 40px,#ff0100 67px,#ff1b00 81px,#ff4f00 99px,#ff9900 115px,#ffb500 121px,#fff800 145px,#ffff03 149px,#ffff72 182px,#ffffb1 195px)"></i><i style="background:linear-gradient(90deg,#000000 0px,#500000 12px,#a60000 28px,#db0000 40px,#ff0200 60px,#ff2400 80px,#ff5b00 99px,#ffa700 115px,#ffc400 121px,#ffff01 141px,#ffff8b 182px,#ffffcb 195px)"></i></div><div class="ax" style="left:181.8px;top:155.4px;width:195.7px;height:85.5px"></div><div class="yt" style="left:160.9px;top:151.6px;font-size:10.6px">2</div><div class="yt" style="left:160.9px;top:172.8px;font-size:10.6px">1</div><div class="yt" style="left:160.9px;top:194.0px;font-size:10.6px">0</div><div class="yt" style="left:160.9px;top:215.2px;font-size:10.6px"><b>−</b>1</div><div class="yt" style="left:160.9px;top:236.4px;font-size:10.6px"><b>−</b>2</div><div class="xt" style="left:171.5px;top:247.2px;font-size:11.0px">0</div><div class="xt" style="left:221.2px;top:247.2px;font-size:11.0px">10</div><div class="xt" style="left:270.0px;top:247.2px;font-size:11.0px">20</div><div class="xt" style="left:318.8px;top:247.2px;font-size:11.0px">30</div><div class="xt" style="left:367.5px;top:247.2px;font-size:11.0px">40</div><div class="xl" style="left:280.0px;top:263.3px;font-size:12.00px">Exposure Energy(J/cm<sup>2</sup>)</div><div class="yl" style="left:153.9px;top:211.8px;font-size:10.30px">Photoproduct’s distribution(x/λ<sub>g</sub>)</div><div class="cb" style="left:386.9px;top:155.4px;height:85.6px;width:3.3px"></div><div class="cl" style="left:392.4px;top:152.1px">1</div><div class="cl" style="left:392.4px;top:169.1px">0.8</div><div class="cl" style="left:392.4px;top:186.0px">0.6</div><div class="cl" style="left:392.4px;top:203.0px">0.4</div><div class="cl" style="left:392.4px;top:219.9px">0.2</div><div class="cl" style="left:392.4px;top:236.9px">0</div><div class="tag" style="left:184.1px;top:159.4px;color:#fff">(c)</div><div class="rg" style="left:314.9px;top:197.8px;color:#000;font-size:9.55px">Bright region</div><div class="rg" style="left:318.1px;top:209.0px;color:#fff;font-size:9.55px">Dark region</div></body></html>
